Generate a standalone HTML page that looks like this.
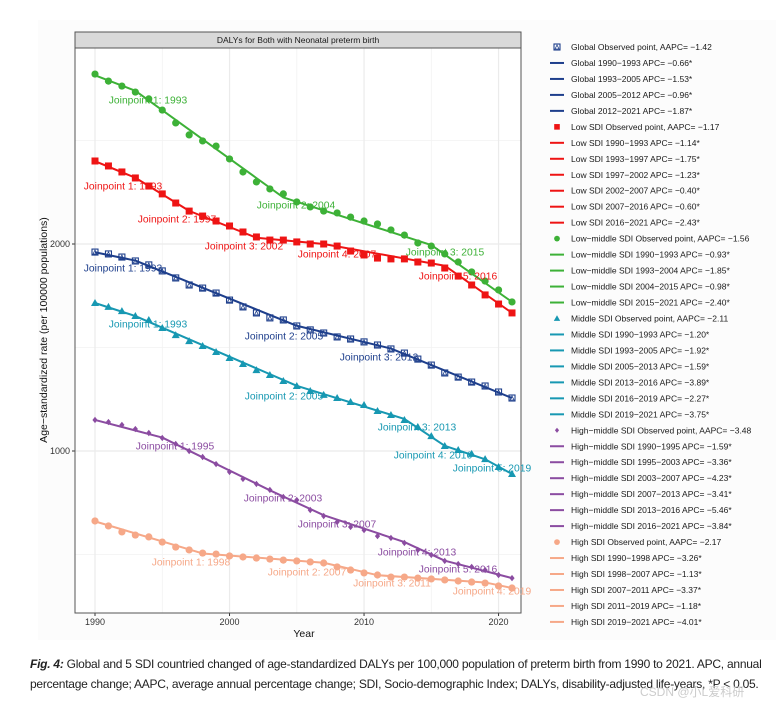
<!DOCTYPE html>
<html><head><meta charset="utf-8">
<style>
body{margin:0;background:#fff;width:776px;height:706px;overflow:hidden;font-family:"Liberation Sans",sans-serif}
svg{position:absolute;left:0;top:0}
#cap{position:absolute;left:30px;top:654px;width:740px;font-size:12px;line-height:20px;color:#222;font-family:"Liberation Sans",sans-serif;letter-spacing:-0.25px}
</style></head><body>
<svg id="chart" width="776" height="706">
 <rect x="0" y="0" width="776" height="706" fill="#fff"/>
 <rect x="38" y="20" width="738" height="620" fill="#fcfcfc"/>
</svg>
<div id="cap"><b><i>Fig. 4:</i></b> Global and 5 SDI countried changed of age-standardized DALYs per 100,000 population of preterm birth from 1990 to 2021. APC, annual percentage change; AAPC, average annual percentage change; SDI, Socio-demographic Index; DALYs, disability-adjusted life-years, *P &lt; 0.05.</div>
<div style="position:absolute;left:640px;top:683px;font-size:12px;color:#ccc">CSDN @小L爱科研</div>
<script>
const years=[];for(let y=1990;y<=2021;y++)years.push(y);
const globalObs=[1961,1952,1937,1918,1899,1870,1836,1802,1787,1763,1729,1696,1667,1643,1633,1604,1585,1570,1551,1541,1527,1512,1493,1473,1444,1415,1377,1357,1333,1314,1285,1256];
const lowObs=[2401,2377,2348,2319,2280,2242,2198,2159,2135,2111,2087,2058,2034,2019,2019,2010,2000,2000,1990,1966,1947,1932,1928,1928,1913,1908,1884,1845,1802,1754,1710,1667];
const lowMidObs=[2821,2787,2763,2734,2701,2647,2585,2527,2498,2473,2411,2348,2300,2266,2242,2203,2179,2159,2150,2130,2111,2097,2068,2043,2005,1990,1952,1913,1865,1821,1778,1720];
const midObs=[1715,1696,1676,1652,1633,1594,1560,1531,1507,1478,1449,1420,1391,1367,1338,1314,1290,1271,1256,1237,1222,1193,1174,1150,1116,1072,1024,1005,986,961,923,889];
const highMidObs=[1150,1140,1126,1106,1087,1063,1034,1000,971,937,899,865,841,812,778,763,715,686,657,633,618,589,580,556,522,498,469,454,440,425,401,386];
const highObs=[662,638,609,594,585,560,536,522,507,502,493,488,483,478,473,469,464,459,440,425,411,401,391,391,386,382,377,372,367,362,348,338];
const globalJP=[1990,1993,2005,2012,2021], globalFit=[1960,1920,1605,1495,1256];
const lowJP=[1990,1993,1997,2002,2007,2016,2021], lowFit=[2400,2320,2160,2030,2000,1895,1667];
const lowMidJP=[1990,1993,2004,2015,2021], lowMidFit=[2815,2740,2225,1995,1720];
const midJP=[1990,1993,2005,2013,2016,2019,2021], midFit=[1715,1652,1315,1155,1025,960,889];
const highMidJP=[1990,1995,2003,2007,2013,2016,2021], highMidFit=[1150,1065,810,690,560,470,386];
const highJP=[1990,1998,2007,2011,2019,2021], highFit=[660,505,460,400,365,338];
const yTicks=[1000,2000];
const xTicks=[1990,2000,2010,2020];
const legendLabels=["Global Observed point, AAPC= −1.42","Global 1990−1993 APC= −0.66*","Global 1993−2005 APC= −1.53*","Global 2005−2012 APC= −0.96*","Global 2012−2021 APC= −1.87*","Low SDI Observed point, AAPC= −1.17","Low SDI 1990−1993 APC= −1.14*","Low SDI 1993−1997 APC= −1.75*","Low SDI 1997−2002 APC= −1.23*","Low SDI 2002−2007 APC= −0.40*","Low SDI 2007−2016 APC= −0.60*","Low SDI 2016−2021 APC= −2.43*","Low−middle SDI Observed point, AAPC= −1.56","Low−middle SDI 1990−1993 APC= −0.93*","Low−middle SDI 1993−2004 APC= −1.85*","Low−middle SDI 2004−2015 APC= −0.98*","Low−middle SDI 2015−2021 APC= −2.40*","Middle SDI Observed point, AAPC= −2.11","Middle SDI 1990−1993 APC= −1.20*","Middle SDI 1993−2005 APC= −1.92*","Middle SDI 2005−2013 APC= −1.59*","Middle SDI 2013−2016 APC= −3.89*","Middle SDI 2016−2019 APC= −2.27*","Middle SDI 2019−2021 APC= −3.75*","High−middle SDI Observed point, AAPC= −3.48","High−middle SDI 1990−1995 APC= −1.59*","High−middle SDI 1995−2003 APC= −3.36*","High−middle SDI 2003−2007 APC= −4.23*","High−middle SDI 2007−2013 APC= −3.41*","High−middle SDI 2013−2016 APC= −5.46*","High−middle SDI 2016−2021 APC= −3.84*","High SDI Observed point, AAPC= −2.17","High SDI 1990−1998 APC= −3.26*","High SDI 1998−2007 APC= −1.13*","High SDI 2007−2011 APC= −3.37*","High SDI 2011−2019 APC= −1.18*","High SDI 2019−2021 APC= −4.01*"];

const NS="http://www.w3.org/2000/svg";
const svg=document.getElementById('chart');
const X=yr=>95+(yr-1990)*13.452;
const Y=v=>451-(v-1000)*0.207;
function mk(tag,attrs,parent){const e=document.createElementNS(NS,tag);for(const k in attrs)e.setAttribute(k,attrs[k]);(parent||svg).appendChild(e);return e;}

const panel=mk('rect',{x:75,y:48,width:446,height:565,fill:'#fff'});


[500,1500,2500].forEach(v=>{const g=mk('line',{x1:75,x2:521,y1:Y(v),y2:Y(v),stroke:'#f2f2f2','stroke-width':0.8});

});
[1995,2005,2015].forEach(v=>{const g=mk('line',{x1:X(v),x2:X(v),y1:48,y2:613,stroke:'#f2f2f2','stroke-width':0.8});

});
yTicks.forEach(v=>{const g=mk('line',{x1:75,x2:521,y1:Y(v),y2:Y(v),stroke:'#ebebeb','stroke-width':1.2});


const t=mk('text',{x:70,y:Y(v)+3,'text-anchor':'end','font-size':9,fill:'#333'});t.textContent=v;


mk('line',{x1:72,x2:75,y1:Y(v),y2:Y(v),stroke:'#333'});});
xTicks.forEach(v=>{const g=mk('line',{x1:X(v),x2:X(v),y1:48,y2:613,stroke:'#ebebeb','stroke-width':1.2});


const t=mk('text',{x:X(v),y:625,'text-anchor':'middle','font-size':9,fill:'#333'});t.textContent=v;


mk('line',{x1:X(v),x2:X(v),y1:613,y2:616,stroke:'#333'});});
const fr=mk('rect',{x:75,y:32,width:446,height:581,fill:'none',stroke:'#555','stroke-width':1});


const st=mk('rect',{x:75,y:32,width:446,height:16,fill:'#d9d9d9',stroke:'#555','stroke-width':1});


const stt=mk('text',{x:298,y:43,'text-anchor':'middle','font-size':8.5,fill:'#1a1a1a'});stt.textContent='DALYs for Both with Neonatal preterm birth';


const xt=mk('text',{x:304,y:637,'text-anchor':'middle','font-size':10.5,fill:'#111'});xt.textContent='Year';


const yt=mk('text',{x:0,y:0,'text-anchor':'middle','font-size':10.5,fill:'#111',transform:'translate(47,330) rotate(-90)'});yt.textContent='Age−standardized rate (per 100000 populations)';



const C={g:'#1e3f8c',r:'#ee1414',lm:'#3db137',m:'#1798b2',hm:'#8b4ca1',h:'#f6a888'};
function marker(type,cx,cy,col,parent){
 if(type==='sq')return mk('rect',{x:cx-3.5,y:cy-3.5,width:7,height:7,fill:col},parent);
 if(type==='osq'){const g=mk('g',{},parent);mk('rect',{x:cx-3,y:cy-3,width:6,height:6,fill:'#fff',stroke:col,'stroke-width':1.1},g);mk('path',{d:`M${cx-2},${cy+2}L${cx},${cy-2}L${cx+2},${cy+2}Z`,fill:'none',stroke:col,'stroke-width':0.8},g);return g;}
 if(type==='c')return mk('circle',{cx,cy,r:3.6,fill:col},parent);
 if(type==='tri')return mk('path',{d:`M${cx-4},${cy+3}L${cx},${cy-4}L${cx+4},${cy+3}Z`,fill:col},parent);
 if(type==='dia')return mk('path',{d:`M${cx},${cy-3.2}L${cx+2.6},${cy}L${cx},${cy+3.2}L${cx-2.6},${cy}Z`,fill:col},parent);
}
const series=[
 {n:'global',obs:globalObs,jp:globalJP,fit:globalFit,c:C.g,m:'osq'},
 {n:'low-sdi',obs:lowObs,jp:lowJP,fit:lowFit,c:C.r,m:'sq'},
 {n:'low-middle-sdi',obs:lowMidObs,jp:lowMidJP,fit:lowMidFit,c:C.lm,m:'c'},
 {n:'middle-sdi',obs:midObs,jp:midJP,fit:midFit,c:C.m,m:'tri'},
 {n:'high-middle-sdi',obs:highMidObs,jp:highMidJP,fit:highMidFit,c:C.hm,m:'dia'},
 {n:'high-sdi',obs:highObs,jp:highJP,fit:highFit,c:C.h,m:'c'}];
series.forEach(s=>{
 const g=mk('g',{});
 
 
 s.obs.forEach((v,i)=>{const e=marker(s.m,X(years[i]),Y(v),s.c,g);
 
 });
 const pl=mk('polyline',{points:s.jp.map((y,i)=>X(y)+','+Y(s.fit[i])).join(' '),fill:'none',stroke:s.c,'stroke-width':2,'stroke-linejoin':'round'},g);
 
 
});
const labels=[
 ['Joinpoint 1: 1993',148,100,C.lm],['Joinpoint 2: 2004',296,205,C.lm],['Joinpoint 3: 2015',445,252,C.lm],
 ['Joinpoint 1: 1993',123,186,C.r],['Joinpoint 2: 1997',177,219,C.r],['Joinpoint 3: 2002',244,246,C.r],['Joinpoint 4: 2007',337,254,C.r],['Joinpoint 5: 2016',458,276,C.r],
 ['Joinpoint 1: 1993',123,268,C.g],['Joinpoint 2: 2005',284,336,C.g],['Joinpoint 3: 2012',379,357,C.g],
 ['Joinpoint 1: 1993',148,324,C.m],['Joinpoint 2: 2005',284,396,C.m],['Joinpoint 3: 2013',417,427,C.m],['Joinpoint 4: 2016',433,455,C.m],['Joinpoint 5: 2019',492,468,C.m],
 ['Joinpoint 1: 1995',175,446,C.hm],['Joinpoint 2: 2003',283,498,C.hm],['Joinpoint 3: 2007',337,524,C.hm],['Joinpoint 4: 2013',417,552,C.hm],['Joinpoint 5: 2016',458,569,C.hm],
 ['Joinpoint 1: 1998',191,562,C.h],['Joinpoint 2: 2007',307,572,C.h],['Joinpoint 3: 2011',392,583,C.h],['Joinpoint 4: 2019',492,591,C.h]];
labels.forEach(l=>{const t=mk('text',{x:l[1],y:l[2]+3.5,'text-anchor':'middle','font-size':10.3,fill:l[3]});t.textContent=l[0];

});
const legG=mk('g',{});


const legMeta=[[0,5,C.g,'osq'],[5,12,C.r,'sq'],[12,17,C.lm,'c'],[17,24,C.m,'tri'],[24,31,C.hm,'dia'],[31,37,C.h,'c']];
legendLabels.forEach((lab,i)=>{
 const y=47+i*15.97;const meta=legMeta.find(m=>i>=m[0]&&i<m[1]);
 const it=mk('g',{},legG);
 
 
 if(i===meta[0]){const e=marker(meta[3],557,y,meta[2],it);if(meta[3]!=='osq')e.setAttribute('transform',`translate(557 ${y}) scale(0.8) translate(-557 ${-y})`);}
 else mk('line',{x1:550,x2:564,y1:y,y2:y,stroke:meta[2],'stroke-width':2},it);
 const t=mk('text',{x:571,y:y+3,'font-size':8.5,fill:'#1a1a1a'},it);t.textContent=lab;
});
</script>
</body></html>
